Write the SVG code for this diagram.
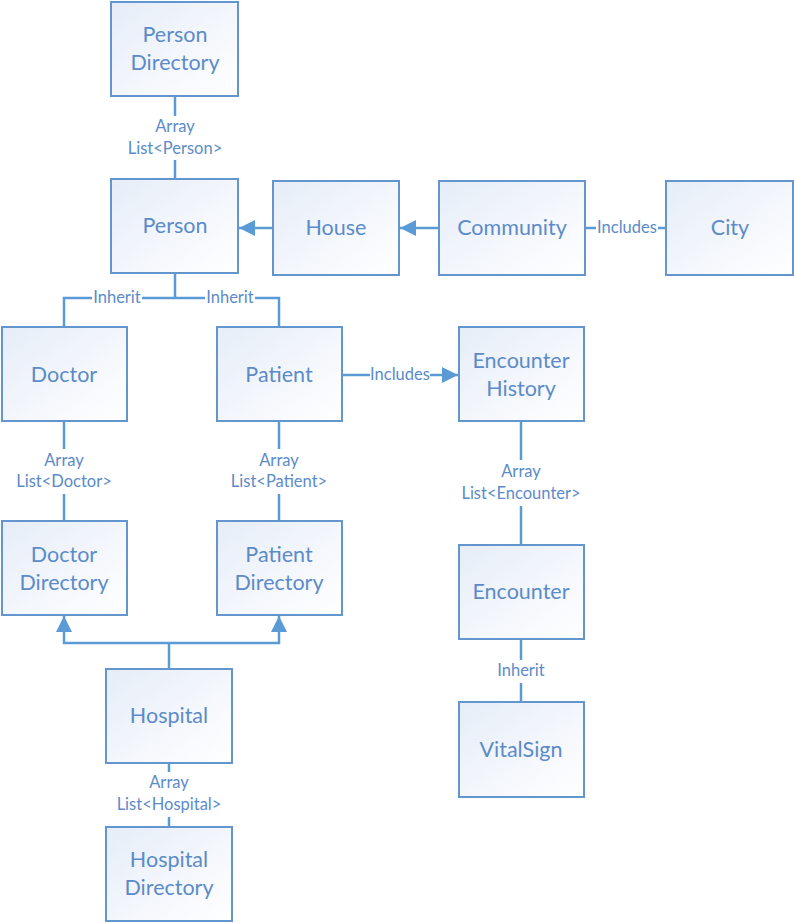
<svg xmlns="http://www.w3.org/2000/svg" width="794" height="923" viewBox="0 0 794 923">
<style>
.box{fill:url(#g);stroke:#6396cf;stroke-width:2}
.t{font-family:Lato,"Open Sans","Liberation Sans",sans-serif;font-size:21.5px;fill:#5b8bc9;text-anchor:middle;dominant-baseline:central}
.l{font-family:Lato,"Open Sans","Liberation Sans",sans-serif;font-size:16.5px;fill:#5b8bc9;text-anchor:middle;dominant-baseline:central}
.c{fill:none;stroke:#5b9bd5;stroke-width:2.5}
</style>
<defs>
<linearGradient id="g" x1="0" y1="0" x2="1" y2="1">
<stop offset="0" stop-color="#e6edf8"/>
<stop offset="1" stop-color="#ffffff"/>
</linearGradient>
<marker id="a" viewBox="0 0 10 10" refX="10" refY="5" markerWidth="16" markerHeight="16" markerUnits="userSpaceOnUse" orient="auto">
<path d="M0,0 L10,5 L0,10 z" fill="#5b9bd5"/>
</marker>
</defs>
<rect width="794" height="923" fill="#fff"/>
<g id="connectors">
<path class="c" d="M175,96 V116"/><path class="c" d="M175,160 V179"/>
<text class="l" x="175" y="126">Array</text><text class="l" x="175" y="148">List&lt;Person&gt;</text>
<path class="c" d="M273,228 H239" marker-end="url(#a)"/>
<path class="c" d="M439,228 H400" marker-end="url(#a)"/>
<path class="c" d="M585,228 H596"/><path class="c" d="M658,228 H666"/>
<text class="l" x="627" y="227">Includes</text>
<path class="c" d="M175,273 V298"/>
<path class="c" d="M92,298 H64 V327"/><path class="c" d="M142,298 H205"/><path class="c" d="M255,298 H279 V327"/>
<text class="l" x="117" y="297">Inherit</text><text class="l" x="230" y="297">Inherit</text>
<path class="c" d="M342,375 H370"/><path class="c" d="M430,375 H458" marker-end="url(#a)"/>
<text class="l" x="400" y="374">Includes</text>
<path class="c" d="M64,421 V449"/><path class="c" d="M64,494 V521"/>
<text class="l" x="64" y="460">Array</text><text class="l" x="64" y="481">List&lt;Doctor&gt;</text>
<path class="c" d="M279,421 V449"/><path class="c" d="M279,494 V521"/>
<text class="l" x="279" y="460">Array</text><text class="l" x="279" y="481">List&lt;Patient&gt;</text>
<path class="c" d="M521,421 V460"/><path class="c" d="M521,506 V545"/>
<text class="l" x="521" y="471">Array</text><text class="l" x="521" y="493">List&lt;Encounter&gt;</text>
<path class="c" d="M521,639 V660"/><path class="c" d="M521,683 V702"/>
<text class="l" x="521" y="670">Inherit</text>
<path class="c" d="M169,669 V643"/>
<path class="c" d="M169,643 H64 V616" marker-end="url(#a)"/>
<path class="c" d="M169,643 H279 V616" marker-end="url(#a)"/>
<path class="c" d="M169,763 V772"/><path class="c" d="M169,817 V827"/>
<text class="l" x="169" y="782">Array</text><text class="l" x="169" y="804">List&lt;Hospital&gt;</text>
</g>
<g id="person-directory"><rect class="box" x="111" y="2" width="127" height="94"/><text class="t" x="175" y="34">Person</text><text class="t" x="175" y="62">Directory</text></g>
<g id="person"><rect class="box" x="111" y="179" width="127" height="94"/><text class="t" x="175" y="225">Person</text></g>
<g id="house"><rect class="box" x="273" y="181" width="126" height="94"/><text class="t" x="336" y="227">House</text></g>
<g id="community"><rect class="box" x="439" y="181" width="146" height="94"/><text class="t" x="512" y="227">Community</text></g>
<g id="city"><rect class="box" x="666" y="181" width="127" height="94"/><text class="t" x="730" y="227">City</text></g>
<g id="doctor"><rect class="box" x="2" y="327" width="125" height="94"/><text class="t" x="64" y="374">Doctor</text></g>
<g id="patient"><rect class="box" x="217" y="327" width="125" height="94"/><text class="t" x="279" y="374">Patient</text></g>
<g id="encounter-history"><rect class="box" x="459" y="327" width="125" height="94"/><text class="t" x="521" y="360">Encounter</text><text class="t" x="521" y="388">History</text></g>
<g id="doctor-directory"><rect class="box" x="2" y="521" width="125" height="94"/><text class="t" x="64" y="554">Doctor</text><text class="t" x="64" y="582">Directory</text></g>
<g id="patient-directory"><rect class="box" x="217" y="521" width="125" height="94"/><text class="t" x="279" y="554">Patient</text><text class="t" x="279" y="582">Directory</text></g>
<g id="encounter"><rect class="box" x="459" y="545" width="125" height="94"/><text class="t" x="521" y="591">Encounter</text></g>
<g id="hospital"><rect class="box" x="106" y="669" width="126" height="94"/><text class="t" x="169" y="715">Hospital</text></g>
<g id="vitalsign"><rect class="box" x="459" y="702" width="125" height="95"/><text class="t" x="521" y="749">VitalSign</text></g>
<g id="hospital-directory"><rect class="box" x="106" y="827" width="126" height="94"/><text class="t" x="169" y="859">Hospital</text><text class="t" x="169" y="887">Directory</text></g>
</svg>
